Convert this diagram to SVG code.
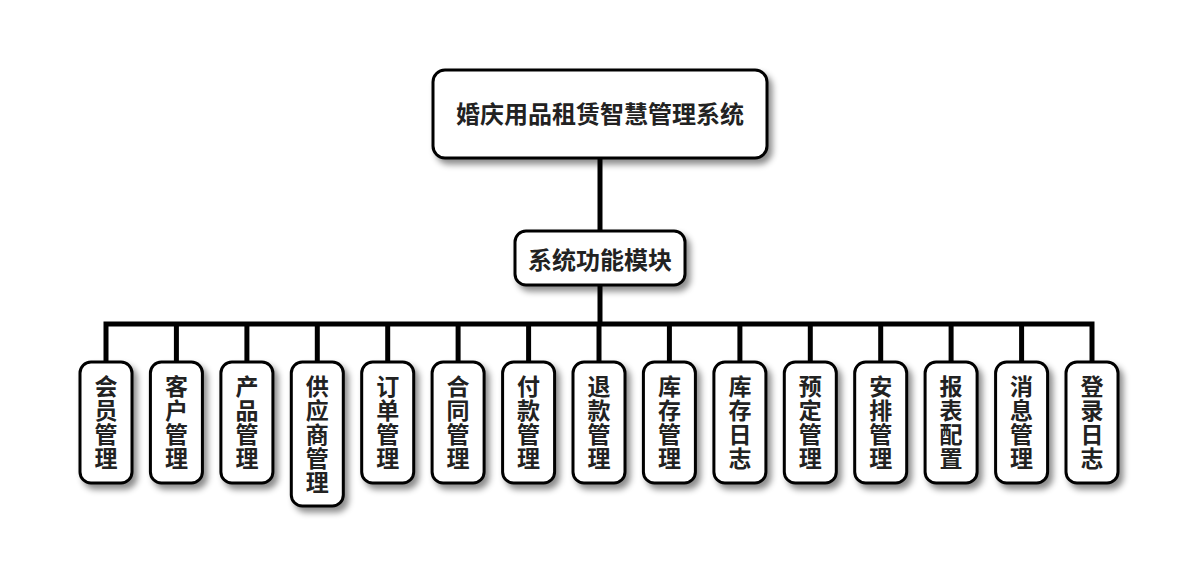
<svg xmlns="http://www.w3.org/2000/svg" width="1198" height="583" viewBox="0 0 1198 583">
<defs>
<filter id="sh" x="-30%" y="-30%" width="160%" height="160%">
<feDropShadow dx="4" dy="5" stdDeviation="3" flood-color="#000" flood-opacity="0.45"/>
</filter>
<style>
.box{fill:#fff;stroke:#000;stroke-width:3;filter:url(#sh)}
.t{font-family:"Noto Sans CJK SC","Noto Sans",sans-serif;font-weight:bold;fill:#222;text-anchor:middle}
.big{font-size:24px}
.leaf{font-size:23px}
.c{stroke:#000;stroke-width:5;fill:none}
</style>
</defs>
<rect width="1198" height="583" fill="#fff"/>
<g id="connectors">
<line class="c" x1="600" y1="158" x2="600" y2="231"/>
<line class="c" x1="600" y1="285" x2="600" y2="324"/>
<polyline class="c" points="106,362 106,324 1092,324 1092,362"/>
<line class="c" x1="176.4" y1="324" x2="176.4" y2="362"/>
<line class="c" x1="246.9" y1="324" x2="246.9" y2="362"/>
<line class="c" x1="317.3" y1="324" x2="317.3" y2="362"/>
<line class="c" x1="387.7" y1="324" x2="387.7" y2="362"/>
<line class="c" x1="458.1" y1="324" x2="458.1" y2="362"/>
<line class="c" x1="528.6" y1="324" x2="528.6" y2="362"/>
<line class="c" x1="599" y1="324" x2="599" y2="362"/>
<line class="c" x1="669.4" y1="324" x2="669.4" y2="362"/>
<line class="c" x1="739.9" y1="324" x2="739.9" y2="362"/>
<line class="c" x1="810.3" y1="324" x2="810.3" y2="362"/>
<line class="c" x1="880.7" y1="324" x2="880.7" y2="362"/>
<line class="c" x1="951.1" y1="324" x2="951.1" y2="362"/>
<line class="c" x1="1021.6" y1="324" x2="1021.6" y2="362"/>
</g>
<g id="root">
<rect class="box" x="433" y="70" width="334" height="88" rx="12"/>
<text class="t big" x="600" y="123">婚庆用品租赁智慧管理系统</text>
</g>
<g id="modules">
<rect class="box" x="515" y="231" width="170" height="54" rx="11"/>
<text class="t big" x="600" y="269">系统功能模块</text>
</g>
<g id="n1"><rect class="box" x="80" y="362" width="52" height="121" rx="11"/><text class="t leaf" x="106"><tspan x="106" y="395">会</tspan><tspan x="106" y="419">员</tspan><tspan x="106" y="443">管</tspan><tspan x="106" y="467">理</tspan></text></g>
<g id="n2"><rect class="box" x="150.4" y="362" width="52" height="121" rx="11"/><text class="t leaf"><tspan x="176.4" y="395">客</tspan><tspan x="176.4" y="419">户</tspan><tspan x="176.4" y="443">管</tspan><tspan x="176.4" y="467">理</tspan></text></g>
<g id="n3"><rect class="box" x="220.9" y="362" width="52" height="121" rx="11"/><text class="t leaf"><tspan x="246.9" y="395">产</tspan><tspan x="246.9" y="419">品</tspan><tspan x="246.9" y="443">管</tspan><tspan x="246.9" y="467">理</tspan></text></g>
<g id="n4"><rect class="box" x="291.3" y="362" width="52" height="144" rx="11"/><text class="t leaf"><tspan x="317.3" y="395">供</tspan><tspan x="317.3" y="419">应</tspan><tspan x="317.3" y="443">商</tspan><tspan x="317.3" y="467">管</tspan><tspan x="317.3" y="491">理</tspan></text></g>
<g id="n5"><rect class="box" x="361.7" y="362" width="52" height="121" rx="11"/><text class="t leaf"><tspan x="387.7" y="395">订</tspan><tspan x="387.7" y="419">单</tspan><tspan x="387.7" y="443">管</tspan><tspan x="387.7" y="467">理</tspan></text></g>
<g id="n6"><rect class="box" x="432.1" y="362" width="52" height="121" rx="11"/><text class="t leaf"><tspan x="458.1" y="395">合</tspan><tspan x="458.1" y="419">同</tspan><tspan x="458.1" y="443">管</tspan><tspan x="458.1" y="467">理</tspan></text></g>
<g id="n7"><rect class="box" x="502.6" y="362" width="52" height="121" rx="11"/><text class="t leaf"><tspan x="528.6" y="395">付</tspan><tspan x="528.6" y="419">款</tspan><tspan x="528.6" y="443">管</tspan><tspan x="528.6" y="467">理</tspan></text></g>
<g id="n8"><rect class="box" x="573" y="362" width="52" height="121" rx="11"/><text class="t leaf"><tspan x="599" y="395">退</tspan><tspan x="599" y="419">款</tspan><tspan x="599" y="443">管</tspan><tspan x="599" y="467">理</tspan></text></g>
<g id="n9"><rect class="box" x="643.4" y="362" width="52" height="121" rx="11"/><text class="t leaf"><tspan x="669.4" y="395">库</tspan><tspan x="669.4" y="419">存</tspan><tspan x="669.4" y="443">管</tspan><tspan x="669.4" y="467">理</tspan></text></g>
<g id="n10"><rect class="box" x="713.9" y="362" width="52" height="121" rx="11"/><text class="t leaf"><tspan x="739.9" y="395">库</tspan><tspan x="739.9" y="419">存</tspan><tspan x="739.9" y="443">日</tspan><tspan x="739.9" y="467">志</tspan></text></g>
<g id="n11"><rect class="box" x="784.3" y="362" width="52" height="121" rx="11"/><text class="t leaf"><tspan x="810.3" y="395">预</tspan><tspan x="810.3" y="419">定</tspan><tspan x="810.3" y="443">管</tspan><tspan x="810.3" y="467">理</tspan></text></g>
<g id="n12"><rect class="box" x="854.7" y="362" width="52" height="121" rx="11"/><text class="t leaf"><tspan x="880.7" y="395">安</tspan><tspan x="880.7" y="419">排</tspan><tspan x="880.7" y="443">管</tspan><tspan x="880.7" y="467">理</tspan></text></g>
<g id="n13"><rect class="box" x="925.1" y="362" width="52" height="121" rx="11"/><text class="t leaf"><tspan x="951.1" y="395">报</tspan><tspan x="951.1" y="419">表</tspan><tspan x="951.1" y="443">配</tspan><tspan x="951.1" y="467">置</tspan></text></g>
<g id="n14"><rect class="box" x="995.6" y="362" width="52" height="121" rx="11"/><text class="t leaf"><tspan x="1021.6" y="395">消</tspan><tspan x="1021.6" y="419">息</tspan><tspan x="1021.6" y="443">管</tspan><tspan x="1021.6" y="467">理</tspan></text></g>
<g id="n15"><rect class="box" x="1066" y="362" width="52" height="121" rx="11"/><text class="t leaf"><tspan x="1092" y="395">登</tspan><tspan x="1092" y="419">录</tspan><tspan x="1092" y="443">日</tspan><tspan x="1092" y="467">志</tspan></text></g>
</svg>
